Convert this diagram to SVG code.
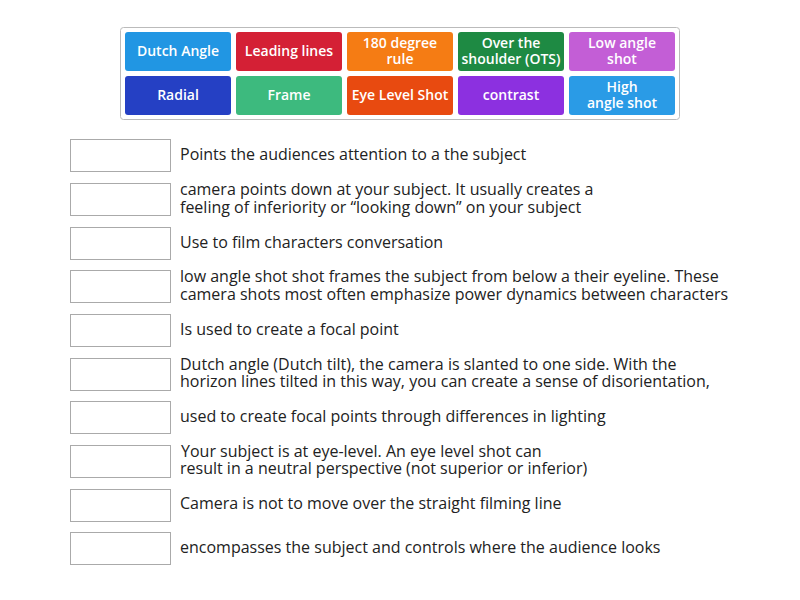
<svg xmlns="http://www.w3.org/2000/svg" width="800" height="600" viewBox="0 0 800 600">
<style>
.t{font-family:"Open Sans","Noto Sans",sans-serif;font-size:14px;font-weight:600;fill:#fff;text-anchor:middle}
.q{font-family:"Open Sans","Noto Sans",sans-serif;font-size:16px;fill:#222}
.b{fill:#fff;stroke:#aaa;stroke-width:1}
</style>
<rect width="800" height="600" fill="#fff"/>
<rect x="120.5" y="27.5" width="559" height="92" rx="3" fill="#fff" stroke="#bbb"/>
<g id="tile-dutch"><rect x="125" y="32" width="106" height="39" rx="3" fill="#2196e3"/><text class="t" x="178" y="56">Dutch Angle</text></g>
<g id="tile-leading"><rect x="236" y="32" width="106" height="39" rx="3" fill="#d42035"/><text class="t" x="289" y="56">Leading lines</text></g>
<g id="tile-180"><rect x="347" y="32" width="106" height="39" rx="3" fill="#f57c14"/><text class="t" x="400" y="48">180 degree</text><text class="t" x="400" y="64">rule</text></g>
<g id="tile-ots"><rect x="458" y="32" width="106" height="39" rx="3" fill="#1e8a43"/><text class="t" x="511" y="48">Over the</text><text class="t" x="511" y="64" font-size="13.5">shoulder (OTS)</text></g>
<g id="tile-low"><rect x="569" y="32" width="106" height="39" rx="3" fill="#c35ed6"/><text class="t" x="622" y="48">Low angle</text><text class="t" x="622" y="64">shot</text></g>
<g id="tile-radial"><rect x="125" y="76" width="106" height="39" rx="3" fill="#2540c4"/><text class="t" x="178" y="100">Radial</text></g>
<g id="tile-frame"><rect x="236" y="76" width="106" height="39" rx="3" fill="#3dba7e"/><text class="t" x="289" y="100">Frame</text></g>
<g id="tile-eye"><rect x="347" y="76" width="106" height="39" rx="3" fill="#e84a10"/><text class="t" x="400" y="100" font-size="13.5">Eye Level Shot</text></g>
<g id="tile-contrast"><rect x="458" y="76" width="106" height="39" rx="3" fill="#8c30e0"/><text class="t" x="511" y="100">contrast</text></g>
<g id="tile-high"><rect x="569" y="76" width="106" height="39" rx="3" fill="#2a9be6"/><text class="t" x="622" y="92">High</text><text class="t" x="622" y="108">angle shot</text></g>
<g id="row1"><rect class="b" x="70.5" y="139.5" width="100" height="32"/><text class="q" x="180" y="160">Points the audiences attention to a the subject</text></g>
<g id="row2"><rect class="b" x="70.5" y="183.5" width="100" height="32"/><text class="q" x="180" y="195">camera points down at your subject. It usually creates a</text><text class="q" x="180" y="213">feeling of inferiority or “looking down” on your subject</text></g>
<g id="row3"><rect class="b" x="70.5" y="227.5" width="100" height="32"/><text class="q" x="180" y="248">Use to film characters conversation</text></g>
<g id="row4"><rect class="b" x="70.5" y="270.5" width="100" height="32"/><text class="q" x="180" y="282">low angle shot shot frames the subject from below a their eyeline. These</text><text class="q" x="180" y="300">camera shots most often emphasize power dynamics between characters</text></g>
<g id="row5"><rect class="b" x="70.5" y="314.5" width="100" height="32"/><text class="q" x="180" y="335">Is used to create a focal point</text></g>
<g id="row6"><rect class="b" x="70.5" y="358.5" width="100" height="32"/><text class="q" x="180" y="370">Dutch angle (Dutch tilt), the camera is slanted to one side. With the</text><text class="q" x="180" y="387">horizon lines tilted in this way, you can create a sense of disorientation,</text></g>
<g id="row7"><rect class="b" x="70.5" y="401.5" width="100" height="32"/><text class="q" x="180" y="422">used to create focal points through differences in lighting</text></g>
<g id="row8"><rect class="b" x="70.5" y="445.5" width="100" height="32"/><text class="q" x="181" y="457">Your subject is at eye-level. An eye level shot can</text><text class="q" x="180" y="474">result in a neutral perspective (not superior or inferior)</text></g>
<g id="row9"><rect class="b" x="70.5" y="489.5" width="100" height="32"/><text class="q" x="180" y="509">Camera is not to move over the straight filming line</text></g>
<g id="row10"><rect class="b" x="70.5" y="532.5" width="100" height="32"/><text class="q" x="180" y="553">encompasses the subject and controls where the audience looks</text></g>
</svg>
